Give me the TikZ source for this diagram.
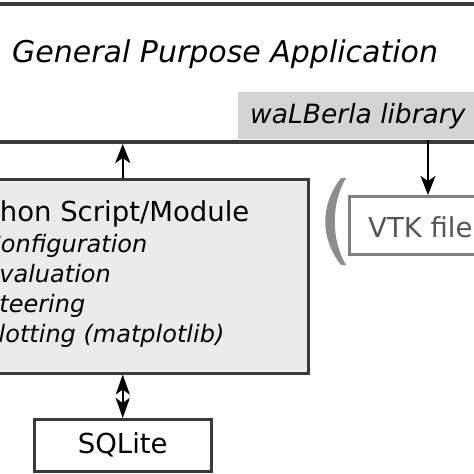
\documentclass[tikz,border=0pt]{standalone}
\usepackage{fontspec}
\setmainfont{DejaVu Sans}
\newcommand\sizetitle{\fontsize{30}{36}\selectfont}
\newcommand\sizelib{\fontsize{26.5}{32}\selectfont}
\newcommand\sizebox{\fontsize{27.5}{33}\selectfont}
\newcommand\sizeitem{\fontsize{24}{30}\selectfont}
\usetikzlibrary{positioning,arrows.meta}
\definecolor{linegray}{HTML}{3A3A3A}
\definecolor{libgray}{HTML}{D4D4D4}
\definecolor{pyfill}{HTML}{EBEBEB}
\definecolor{vtkgray}{HTML}{808080}
\definecolor{vtktext}{HTML}{555555}
\definecolor{parengray}{HTML}{8C8C8C}
\tikzset{box/.style={rectangle,draw=linegray,line width=2.5pt,inner sep=0pt,anchor=north west},
         txt/.style={anchor=base west,inner sep=0pt,text=black},
         arr/.style={-{Stealth[length=19pt,width=15pt,inset=5pt]},line width=2.5pt,draw=black}}

\begin{document}
\begin{tikzpicture}[x=1pt,y=-1pt]
                \useasboundingbox (0,0) rectangle (474,474);
                % application and library
                \node[box, fill=libgray, draw=none, minimum width=270, minimum height=47] (lib) at (237,91) {};
                \node[box, line width=4pt, minimum width=520, minimum height=138] (app) at (-23,2) {};
                \node[txt, font=\sizetitle\itshape] (title) at (12,62) {General Purpose Application};
                \node[txt, font=\sizelib\itshape] (libname) at (250,123) {waLBerla library};

                % python script
                \node[box, fill=pyfill, minimum width=367, minimum height=194] (pyscript) at (-60,178) {};
                \node[txt, font=\sizebox] (pytitle) at (-44,221) {Python Script/Module};
                \foreach \task [count=\i] in {Configuration,Evaluation,Steering,{Plotting (matplotlib)}}
                    \node[txt, font=\sizeitem\itshape] (task\i) at (-16,222+30*\i) {\task};

                % vtk output
                \node[box, draw=vtkgray, fill=white, minimum width=160, minimum height=58] (vtk) at (348,195) {};
                \node[txt, font=\sizebox, text=vtktext] (vtkname) at (368,237) {VTK file};
                \fill[parengray] (341,178) .. controls (320,205) and (320,238) .. (341,265) -- (346,265)
                    .. controls (331,240) and (331,203) .. (346,178) -- cycle;

                % database
                \node[box, minimum width=177, minimum height=52] (sqlite) at (33,418) {};
                \node[txt, anchor=base] (sqlname) at (sqlite.center |- 0,453) {\sizebox SQLite};

                \coordinate (tovtk) at (428,140);
                \draw[arr] (sqlite.north |- pyscript.north) -- (sqlite.north |- app.south);
                \draw[arr] (tovtk) -- (tovtk |- vtk.north);
                \draw[arr, {Stealth[length=20pt,width=14pt,inset=5pt]}-{Stealth[length=20pt,width=14pt,inset=5pt]}] (sqlite.north |- pyscript.south) -- (sqlite.north);
            \end{tikzpicture}
\end{document}
